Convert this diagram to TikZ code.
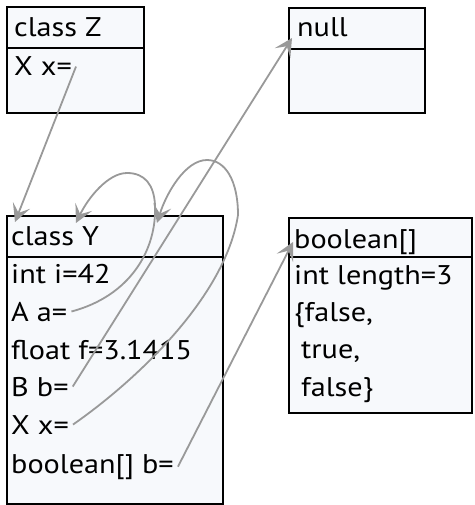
\documentclass[tikz,border=0pt]{standalone}
\usepackage{fontspec}
\setmainfont{PT Sans}[FakeStretch=1.12]
\usetikzlibrary{arrows.meta}
\definecolor{boxfill}{HTML}{F7F9FC}
\definecolor{arrgray}{HTML}{999999}
\tikzset{
  box/.style={draw=black, line width=2.2pt, fill=boxfill, inner sep=0pt, anchor=north west},
  sep/.style={draw=black, line width=2.2pt},
  lbl/.style={anchor=base west, inner sep=0pt, font=\fontsize{27}{32}\selectfont},
  refarrow/.style={draw=arrgray, line width=1.8pt, -{Stealth[scale length=1.6, scale width=2.2, inset=5pt]}}
}
\begin{document}
\begin{tikzpicture}[x=1pt,y=-1pt]
\useasboundingbox (0,0) rectangle (474,505);
% boxes
\node[box, minimum width=137pt, minimum height=106pt] (Zbox) at (6,6) {};
\draw[sep] (6,48) -- (143,48);
\node[box, minimum width=136pt, minimum height=105pt] (Nbox) at (288,7) {};
\draw[sep] (288,49) -- (424,49);
\node[box, minimum width=216pt, minimum height=288pt] (Ybox) at (6,215) {};
\draw[sep] (6,257) -- (222,257);
\node[box, minimum width=183pt, minimum height=195pt] (Bbox) at (288,217) {};
\draw[sep] (288,257) -- (471,257);
% texts
\node[lbl] (Zt) at (14,37) {class Z};
\node[lbl] (Zx) at (14,76) {X x=};
\node[lbl] (Nt) at (297,37) {null};
\node[lbl] (Yt) at (11,245) {class Y};
\node[lbl] (Yi) at (11,283) {int i=42};
\node[lbl] (Ya) at (11,321) {A a=};
\node[lbl] (Yf) at (11,359) {float f=3.1415};
\node[lbl] (Yb) at (11,396) {B b=};
\node[lbl] (Yx) at (11,434) {X x=};
\node[lbl] (Yarr) at (11,473) {boolean[] b=};
\node[lbl] (Bt) at (294,248) {boolean[]};
\node[lbl] (Bl) at (294,284) {int length=3};
\node[lbl] (B1) at (294,321) {\{false,};
\node[lbl] (B2) at (301,358) {true,};
\node[lbl] (B3) at (301,396) {false\}};
% tips
\coordinate (tipZ) at (15,222);
\coordinate (tipA) at (76,223);
\coordinate (tipX) at (157,223);
\coordinate (tipN) at (292,38);
\coordinate (tipB) at (293,242);
% connectors
\draw[refarrow] ([xshift=4pt]Zx.east) -- (tipZ);
\draw[refarrow] ([xshift=4pt]Ya.east) .. controls (130,296) and (157,250) .. (155,205) .. controls (154,185) and (145,173) .. (127,173) .. controls (108,173) and (88,198) .. (tipA);
\draw[refarrow] ([xshift=4pt]Yb.east) -- (tipN);
\draw[refarrow] ([xshift=4pt]Yx.east) .. controls (130,385) and (225,300) .. (238,215) .. controls (238,180) and (225,160) .. (207,160) .. controls (185,160) and (166,194) .. (tipX);
\draw[refarrow] ([xshift=4pt]Yarr.east) -- (tipB);
\end{tikzpicture}
\end{document}
